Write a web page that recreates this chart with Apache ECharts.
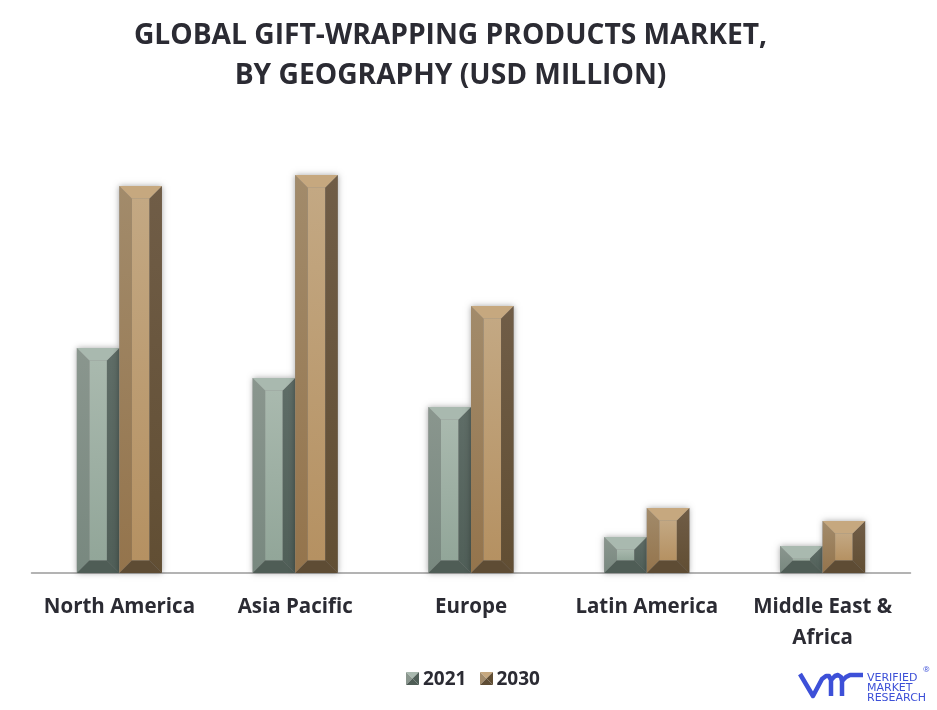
<!DOCTYPE html>
<html><head><meta charset="utf-8">
<style>html,body{margin:0;padding:0;background:#fff}#c{width:937px;height:710px}</style>
<script src="https://cdn.jsdelivr.net/npm/echarts@6/dist/echarts.min.js"></script>
</head><body><div id="c"></div>
<script>
const categories = ['North America','Asia Pacific','Europe','Latin America','Middle East &\nAfrica'];
const values2021 = [225,195,166,36,27];
const values2030 = [387,398,267,65,52];
const titleLines = ['GLOBAL GIFT-WRAPPING PRODUCTS MARKET,','BY GEOGRAPHY (USD MILLION)'];
const FONT = '"Open Sans"';

const palettes = {
  '2021': {top:'#a9b9af', botm:'#4f5d56', left:['#8a968e','#78887f'], right:['#5f6d67','#505f58'], front:['#a9b9ae','#92a699']},
  '2030': {top:'#c6a87f', botm:'#5e4c34', left:['#a28b6b','#94744c'], right:['#705d47','#614e33'], front:['#c3a883','#b59162']}
};
function vg(c){return {type:'linear',x:0,y:0,x2:0,y2:1,colorStops:[{offset:0,color:c[0]},{offset:1,color:c[1]}]};}
function poly(pts,fill){return {type:'polygon',shape:{points:pts},style:{fill:fill},silent:true};}

function makeRender(name,side){
  const p = palettes[name];
  return function(params,api){
    const i = api.value(0);
    const base = api.coord([i,0]);
    const topPt = api.coord([i,api.value(1)]);
    const band = api.size([1,0])[0];
    const w = band*0.242;
    const x0 = side<0 ? base[0]-w : base[0];
    const x1 = x0+w;
    const y0 = topPt[1], y1 = base[1];
    const b = Math.min(12.5,(y1-y0)/2.2);
    const iw = 12.5;
    return {type:'group',children:[
      {type:'rect',shape:{x:x0,y:y0,width:w,height:y1-y0},style:{fill:'#888',shadowBlur:6,shadowColor:'rgba(0,0,0,0.35)'},silent:true},
      poly([[x0+iw,y0+b],[x1-iw,y0+b],[x1-iw,y1-b],[x0+iw,y1-b]],vg(p.front)),
      poly([[x0,y0],[x0+iw,y0+b],[x0+iw,y1-b],[x0,y1]],vg(p.left)),
      poly([[x1,y0],[x1-iw,y0+b],[x1-iw,y1-b],[x1,y1]],vg(p.right)),
      poly([[x0,y0],[x1,y0],[x1-iw,y0+b],[x0+iw,y0+b]],p.top),
      poly([[x0,y1],[x1,y1],[x1-iw,y1-b],[x0+iw,y1-b]],p.botm)
    ]};
  };
}
function swatch(x,y,s,p){
  const m=[x+s/2,y+s/2],r=x+s,b=y+s;
  return [
    {type:'polygon',shape:{points:[[x,y],[r,y],m]},style:{fill:p.top},z:100},
    {type:'polygon',shape:{points:[[x,y],[x,b],m]},style:{fill:p.left[0]},z:100},
    {type:'polygon',shape:{points:[[r,y],[r,b],m]},style:{fill:p.right[1]},z:100},
    {type:'polygon',shape:{points:[[x,b],[r,b],m]},style:{fill:p.botm},z:100}
  ];
}
const logoBlue='#3d50d8';
const logoStroke={stroke:logoBlue,lineWidth:4.5,fill:null,lineJoin:'round'};
function logoText(t,y){return {type:'text',x:867,y:y,style:{text:t,fontFamily:'"DejaVu Sans"',fontSize:11,fill:logoBlue,verticalAlign:'middle'}};}
const chart = echarts.init(document.getElementById('c'));
chart.setOption({
  animation:false,
  backgroundColor:'#fff',
  title:{text:titleLines.join('\n'),left:445.5,top:11,textAlign:'center',
    textStyle:{fontFamily:FONT,fontWeight:700,fontSize:28.2,lineHeight:40,color:'#2b2b33'}},
  legend:{data:['2021','2030'],left:406,top:665,itemWidth:7,itemHeight:12,itemGap:18,icon:'rect',
    itemStyle:{opacity:0},
    textStyle:{fontFamily:FONT,fontWeight:700,fontSize:19,color:'#2b2b33'}},
  grid:{left:31.5,right:26.5,top:173,height:400},
  xAxis:{type:'category',data:categories,
    axisLine:{lineStyle:{color:'#9a9a9a',width:1.5}},axisTick:{show:false},
    axisLabel:{interval:0,margin:19,fontFamily:FONT,fontWeight:700,fontSize:20.5,lineHeight:31,color:'#2b2b33'}},
  yAxis:{type:'value',min:0,max:400,show:false},
  series:[
    {name:'2021',type:'custom',color:'#6f8076',renderItem:makeRender('2021',-1),encode:{x:0,y:1},
      data:values2021.map((v,i)=>[i,v])},
    {name:'2030',type:'custom',color:'#96774f',renderItem:makeRender('2030',1),encode:{x:0,y:1},
      data:values2030.map((v,i)=>[i,v])}
  ],
  graphic:[
    ...swatch(406,672,13,palettes['2021']),
    ...swatch(480,672,13,palettes['2030']),
    {type:'polyline',shape:{points:[[800,674],[813,696],[822,679],[826,676],[829,676],[831,680],[831,696]]},style:logoStroke},
    {type:'polyline',shape:{points:[[831,680],[835,676],[838,675],[841,677],[842,681],[842,696]]},style:logoStroke},
    {type:'polyline',shape:{points:[[842,681],[846,677],[850,675],[863,675]]},style:logoStroke},
    logoText('VERIFIED',678),
    logoText('MARKET',688),
    logoText('RESEARCH',698),
    {type:'text',x:923,y:666,style:{text:'®',fontFamily:FONT,fontSize:8,fill:logoBlue}}
  ]
});
</script></body></html>
